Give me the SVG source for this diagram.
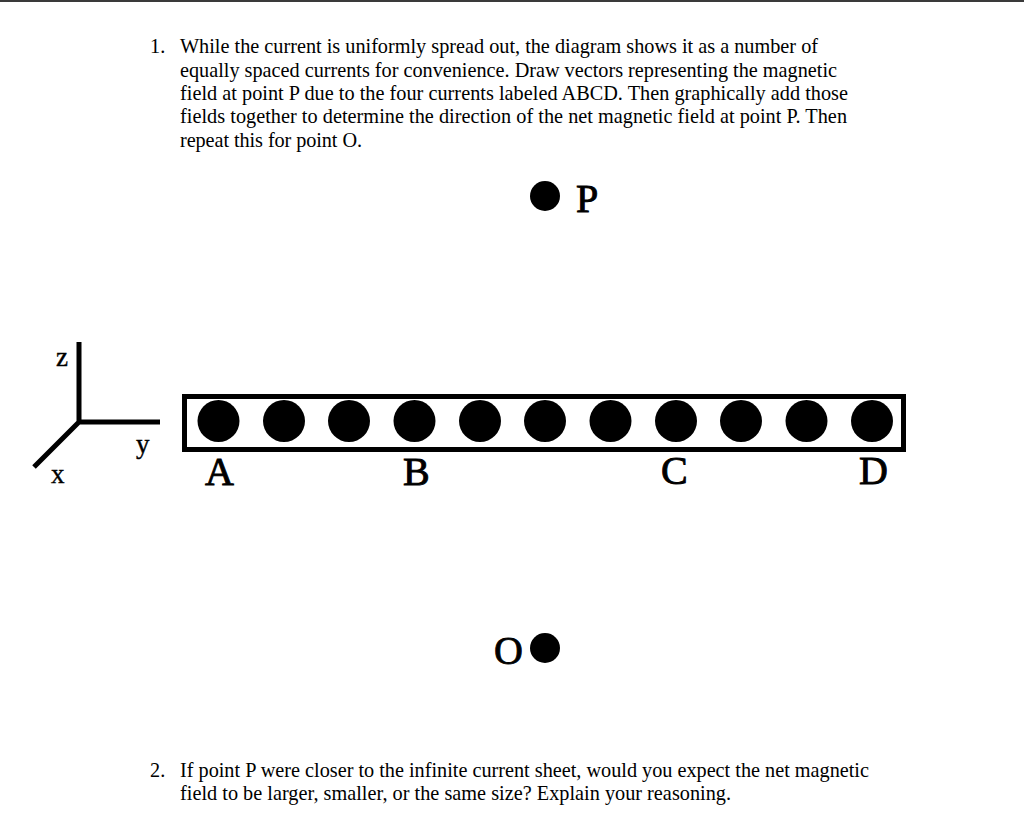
<svg xmlns="http://www.w3.org/2000/svg" width="1024" height="826" viewBox="0 0 1024 826">
<style>
text{font-family:"Liberation Serif","Times New Roman",serif;fill:#000}
.t{font-size:20.250px}
.l{font-size:40px;stroke:#000;stroke-width:.9}
.a{font-size:27px;stroke:#000;stroke-width:.4}
.s{fill:none;stroke:#000;stroke-width:5}
circle{fill:#000}
</style>
<rect width="1024" height="826" fill="#fff"/>
<rect width="1024" height="2" fill="#3a3a3a"/>
<g id="question1">
<text class="t" x="150" y="53">1.</text>
<text class="t" x="180" y="53" textLength="638">While the current is uniformly spread out, the diagram shows it as a number of</text>
<text class="t" x="180" y="76.500" textLength="657">equally spaced currents for convenience. Draw vectors representing the magnetic</text>
<text class="t" x="180" y="99.500" textLength="668">field at point P due to the four currents labeled ABCD. Then graphically add those</text>
<text class="t" x="180" y="122.500" textLength="667">fields together to determine the direction of the net magnetic field at point P. Then</text>
<text class="t" x="180" y="146.500" textLength="182">repeat this for point O.</text>
</g>
<g id="question2">
<text class="t" x="150" y="776.500">2.</text>
<text class="t" x="180" y="776.500" textLength="689">If point P were closer to the infinite current sheet, would you expect the net magnetic</text>
<text class="t" x="180" y="799.500" textLength="551">field to be larger, smaller, or the same size? Explain your reasoning.</text>
</g>
<g id="point-P"><circle cx="545" cy="196" r="15"/><text class="l" x="576" y="212">P</text></g>
<g id="point-O"><circle cx="545" cy="648" r="15"/><text class="l" x="494" y="664">O</text></g>
<g id="axes">
<path class="s" d="M79 342V422M79 422H160M79 422L34 467"/>
<text class="a" x="56" y="366">z</text>
<text class="a" x="136" y="453">y</text>
<text class="a" x="51" y="483">x</text>
</g>
<g id="sheet">
<rect class="s" x="184.500" y="396.500" width="719" height="53"/>
<circle cx="218.500" cy="421" r="21"/><circle cx="284" cy="421" r="21"/><circle cx="349" cy="421" r="21"/><circle cx="414.500" cy="421" r="21"/><circle cx="480" cy="421" r="21"/><circle cx="545" cy="421" r="21"/><circle cx="610.500" cy="421" r="21"/><circle cx="676" cy="421" r="21"/><circle cx="741" cy="421" r="21"/><circle cx="806.500" cy="421" r="21"/><circle cx="872" cy="421" r="21"/>
</g>
<g id="label-A"><text class="l" x="205" y="485">A</text></g>
<g id="label-B"><text class="l" x="403" y="485">B</text></g>
<g id="label-C"><text class="l" x="661" y="484">C</text></g>
<g id="label-D"><text class="l" x="859" y="484">D</text></g>
</svg>
